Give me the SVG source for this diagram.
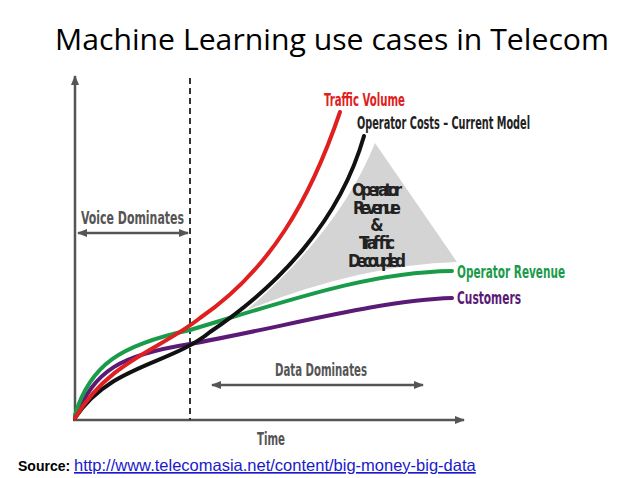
<svg xmlns="http://www.w3.org/2000/svg" width="638" height="478" viewBox="0 0 638 478">
<style>
.lbl{font-family:"DejaVu Sans Condensed","DejaVu Sans",sans-serif;font-weight:bold;font-size:17px}
.ax{stroke:#555;stroke-width:2.5;fill:none}
.c{fill:none;stroke-width:4;stroke-linecap:round}
</style>
<defs>
<marker id="ah" markerWidth="10" markerHeight="8" refX="9" refY="4" orient="auto-start-reverse" markerUnits="userSpaceOnUse"><path d="M0,0 L10,4 L0,8 Z" fill="#555"/></marker>
</defs>
<rect width="638" height="478" fill="#fff"/>
<text x="332" y="50" text-anchor="middle" font-family="Open Sans,Liberation Sans,sans-serif" font-size="29" textLength="554" lengthAdjust="spacingAndGlyphs" fill="#000">Machine Learning use cases in Telecom</text>
<g id="axes">
<line class="ax" x1="75" y1="420" x2="75" y2="76" marker-end="url(#ah)"/>
<line class="ax" x1="73" y1="420" x2="464" y2="420" marker-end="url(#ah)"/>
<line x1="190" y1="78" x2="190" y2="420" stroke="#333" stroke-width="2" stroke-dasharray="6,4"/>
</g>
<g id="wedge"><path d="M375,143 L457,262 Q360,265 247,310 Q340,230 375,143 Z" fill="#d4d4d4"/>
<text class="lbl" text-anchor="middle" fill="#222" lengthAdjust="spacingAndGlyphs"><tspan x="377" y="196" textLength="50">Operator</tspan><tspan x="377" y="214" textLength="48">Revenue</tspan><tspan x="377" y="231">&amp;</tspan><tspan x="377" y="249" textLength="36">Traffic</tspan><tspan x="377" y="267" textLength="58">Decoupled</tspan></text></g>
<g id="curves">
<path class="c" stroke="#5a1a75" d="M75,418 C95,370 120,355 190,344 C280,328 380,300 452,298"/>
<path class="c" stroke="#1a9b4a" d="M75,415 C90,365 120,345 190,330 C290,300 370,272 452,271"/>
<path class="c" stroke="#111" d="M75,418 C110,365 170,365 210,332 C280,285 340,220 364,136"/>
<path class="c" stroke="#e02020" d="M75,418 C110,360 160,350 200,318 C270,270 310,200 340,112"/>
</g>
<g id="arrows">
<line class="ax" stroke-width="2" x1="78" y1="233" x2="188" y2="233" marker-start="url(#ah)" marker-end="url(#ah)"/>
<line class="ax" stroke-width="2" x1="212" y1="385" x2="423" y2="385" marker-start="url(#ah)" marker-end="url(#ah)"/>
</g>
<g id="labels">
<text class="lbl" x="81" y="224" textLength="103" lengthAdjust="spacingAndGlyphs" fill="#555">Voice Dominates</text>
<text class="lbl" x="275" y="376" textLength="92" lengthAdjust="spacingAndGlyphs" fill="#555">Data Dominates</text>
<text class="lbl" x="257" y="445" textLength="28" lengthAdjust="spacingAndGlyphs" fill="#555">Time</text>
<text class="lbl" x="324" y="106" textLength="81" lengthAdjust="spacingAndGlyphs" fill="#e02020">Traffic Volume</text>
<text class="lbl" x="357" y="129" textLength="173" lengthAdjust="spacingAndGlyphs" fill="#222">Operator Costs – Current Model</text>
<text class="lbl" x="457" y="278" textLength="108" lengthAdjust="spacingAndGlyphs" fill="#1a9b4a">Operator Revenue</text>
<text class="lbl" x="457" y="304" textLength="64" lengthAdjust="spacingAndGlyphs" fill="#5a1a75">Customers</text>
</g>
<text x="18" y="471" font-family="Liberation Sans,sans-serif" font-size="14"><tspan font-weight="bold">Source: </tspan><tspan fill="#1a1acc" text-decoration="underline" font-size="16.5">http://www.telecomasia.net/content/big-money-big-data</tspan></text>
</svg>
